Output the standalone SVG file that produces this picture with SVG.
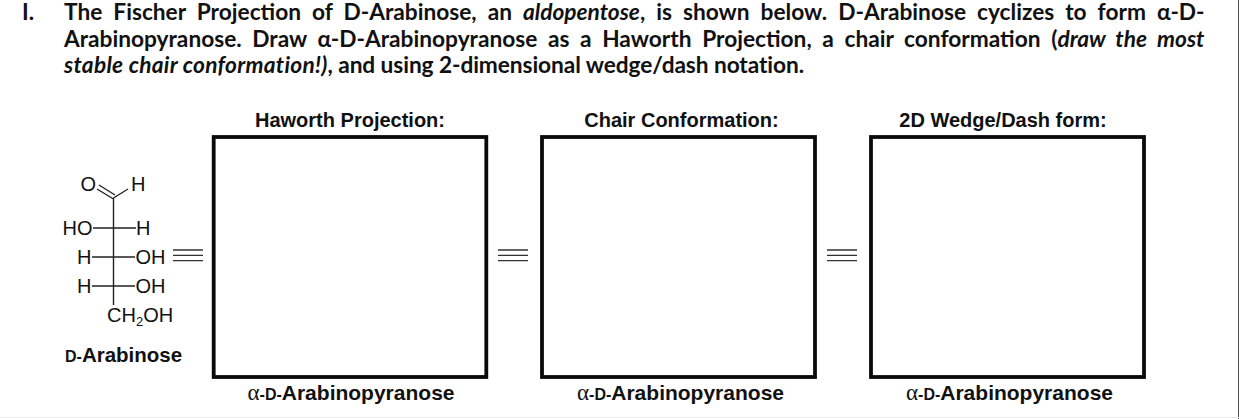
<svg xmlns="http://www.w3.org/2000/svg" width="1239" height="419" viewBox="0 0 1239 419">
<style>
.q{font-family:Lato,"Open Sans",sans-serif;font-size:22.700px;font-weight:700;fill:#111}
.a{font-family:"Liberation Sans",Arial,sans-serif;fill:#111}
.h{font-size:20px;font-weight:700;text-anchor:middle}
.l{font-size:21px;font-weight:700;text-anchor:middle}
.g{font-family:"Liberation Serif",serif;font-weight:400;font-size:23px}
.d{font-size:16px}
.c{font-size:20px}
.box{fill:#fff;stroke:#0a0a0a;stroke-width:3.8}
.b{fill:none;stroke:#222;stroke-width:1.4}
.e{fill:none;stroke:#333;stroke-width:1.3}
</style>
<rect width="1239" height="419" fill="#fff"/>
<path d="M1238.500 0V419" stroke="#555" stroke-width="1"/>
<path d="M0 417.500H1239" stroke="#eee" stroke-width="1"/>
<g id="question">
<text class="q" x="22" y="20">I.</text>
<text class="q" x="64" y="20" word-spacing="5.500">The Fischer Projection of D-Arabinose, an <tspan font-style="italic">aldopentose</tspan>, is shown below. D-Arabinose cyclizes to form α-D-</text>
<text class="q" x="64" y="47" word-spacing="5.100">Arabinopyranose. Draw α-D-Arabinopyranose as a Haworth Projection, a chair conformation (<tspan font-style="italic">draw the most</tspan></text>
<text class="q" x="64" y="73"><tspan font-style="italic" letter-spacing="0.270">stable chair conformation!)</tspan><tspan letter-spacing="-0.080">, and using 2-dimensional wedge/dash notation.</tspan></text>
</g>
<g id="haworth-box">
<text class="a h" x="350" y="127">Haworth Projection:</text>
<rect class="box" x="213.700" y="137" width="272.600" height="240"/>
<text class="a l" x="351" y="400"><tspan class="g">α</tspan><tspan class="d">-D-</tspan>Arabinopyranose</text>
</g>
<g id="chair-box">
<text class="a h" x="681.500" y="127">Chair Conformation:</text>
<rect class="box" x="542" y="137" width="273" height="240"/>
<text class="a l" x="680.500" y="400"><tspan class="g">α</tspan><tspan class="d">-D-</tspan>Arabinopyranose</text>
</g>
<g id="wedge-box">
<text class="a h" x="1003" y="127">2D Wedge/Dash form:</text>
<rect class="box" x="871" y="137" width="273" height="240"/>
<text class="a l" x="1009.500" y="400"><tspan class="g">α</tspan><tspan class="d">-D-</tspan>Arabinopyranose</text>
</g>
<g id="fischer">
<text class="a c" x="80.500" y="191">O</text>
<text class="a c" x="131" y="191">H</text>
<text class="a c" x="62.500" y="235">HO</text>
<text class="a c" x="136" y="235">H</text>
<text class="a c" x="77" y="264">H</text>
<text class="a c" x="135.500" y="264">OH</text>
<text class="a c" x="77" y="293">H</text>
<text class="a c" x="135.500" y="293">OH</text>
<text class="a c" x="107" y="322">CH<tspan font-size="13" dy="4">2</tspan><tspan dy="-4">OH</tspan></text>
<text class="a" x="65" y="362" font-size="20.500" font-weight="700"><tspan font-size="16">D-</tspan>Arabinose</text>
</g>
<g id="connectors">
<path class="b" d="M113.500 198V305M93 228H136M92 257H135M92 286H135M113.500 198L128 189M97 189L113.500 199M99 185L115 195"/>
<path class="e" d="M173 250H203M173 255.300H203M173 260.700H203M498 250H528M498 255.300H528M498 260.700H528M827 250H857M827 255.300H857M827 260.700H857"/>
</g>
</svg>
